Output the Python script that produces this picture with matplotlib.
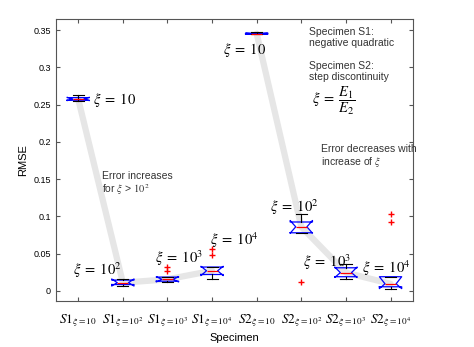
import matplotlib.pyplot as plt

plt.rcParams['font.family'] = ['Liberation Sans', 'DejaVu Sans']
plt.rcParams['mathtext.fontset'] = 'stix'

# per-specimen box statistics (RMSE)
labels = [r'$S1_{\xi=10}$', r'$S1_{\xi=10^2}$', r'$S1_{\xi=10^3}$', r'$S1_{\xi=10^4}$',
          r'$S2_{\xi=10}$', r'$S2_{\xi=10^2}$', r'$S2_{\xi=10^3}$', r'$S2_{\xi=10^4}$']
med = [0.2575, 0.0110, 0.0155, 0.0270, 0.3455, 0.0860, 0.0245, 0.0095]
q1 = [0.2560, 0.0085, 0.0130, 0.0220, 0.3450, 0.0780, 0.0190, 0.0055]
q3 = [0.2595, 0.0145, 0.0185, 0.0320, 0.3460, 0.0925, 0.0310, 0.0190]
whislo = [0.2555, 0.0065, 0.0125, 0.0155, 0.3450, 0.0780, 0.0160, 0.0030]
whishi = [0.2630, 0.0160, 0.0190, 0.0325, 0.3470, 0.1030, 0.0360, 0.0190]
cilo = [0.2555, 0.0065, 0.0120, 0.0205, 0.3448, 0.0775, 0.0180, 0.0030]
cihi = [0.2600, 0.0160, 0.0190, 0.0330, 0.3462, 0.0945, 0.0320, 0.0190]
fliers = [[], [], [0.027, 0.032], [0.048, 0.056], [], [0.012], [], [0.093, 0.1035]]

stats = []
for i in range(len(labels)):
    stats.append(dict(med=med[i], q1=q1[i], q3=q3[i], whislo=whislo[i], whishi=whishi[i],
                      cilo=cilo[i], cihi=cihi[i], fliers=fliers[i]))

fig = plt.figure(figsize=(4.74, 3.47), dpi=100)
ax = fig.add_axes([0.118, 0.133, 0.753, 0.812])

pos = list(range(1, 9))
# trend line through medians
ax.plot(pos[:4], med[:4], color='#e6e6e6', lw=4.5, solid_capstyle='round', zorder=1)
ax.plot(pos[4:], med[4:], color='#e6e6e6', lw=4.5, solid_capstyle='round', zorder=1)

ax.bxp(stats, positions=pos, widths=0.5, shownotches=True, patch_artist=False,
       boxprops=dict(color='blue', lw=0.9),
       medianprops=dict(color='red', lw=0.9),
       whiskerprops=dict(color='black', lw=0.8),
       capprops=dict(color='black', lw=0.8),
       flierprops=dict(marker='+', markeredgecolor='red', markersize=4, lw=0),
       capwidths=0.25, zorder=2)

ax.set_xlim(0.5, 8.5)
ax.set_ylim(-0.0134, 0.365)
ax.set_xticks(pos)
ax.set_yticks([0, 0.05, 0.1, 0.15, 0.2, 0.25, 0.3, 0.35])
ax.set_yticklabels(['0', '0.05', '0.1', '0.15', '0.2', '0.25', '0.3', '0.35'])
ax.tick_params(direction='in', top=True, right=True, labelsize=6.5, length=3, color='#555555')
ax.set_xticklabels(labels, fontsize=9.5)
ax.tick_params(axis='x', pad=8)
for s in ax.spines.values():
    s.set_color('#555555')
    s.set_linewidth(0.8)
ax.set_xlabel('Specimen', fontsize=8, labelpad=3)
ax.set_ylabel('RMSE', fontsize=8)

fs = 10.5
ax.text(1.33, 0.257, r'$\xi\;=\;10$', fontsize=fs, va='center')
ax.text(0.88, 0.028, r'$\xi\;=\;10^2$', fontsize=fs, va='center')
ax.text(2.72, 0.044, r'$\xi\;=\;10^3$', fontsize=fs, va='center')
ax.text(3.95, 0.068, r'$\xi\;=\;10^4$', fontsize=fs, va='center')
ax.text(4.24, 0.323, r'$\xi\;=\;10$', fontsize=fs, va='center')
ax.text(5.29, 0.113, r'$\xi\;=\;10^2$', fontsize=fs, va='center')
ax.text(6.03, 0.039, r'$\xi\;=\;10^3$', fontsize=fs, va='center')
ax.text(7.35, 0.031, r'$\xi\;=\;10^4$', fontsize=fs, va='center')

ax.text(6.18, 0.340, 'Specimen S1:\nnegative quadratic', fontsize=7.5, va='center',
        linespacing=1.1, color='#333333')
ax.text(6.18, 0.295, 'Specimen S2:\nstep discontinuity', fontsize=7.5, va='center',
        linespacing=1.1, color='#333333')
ax.text(6.25, 0.256, r'$\xi\;=\;\dfrac{E_1}{E_2}$', fontsize=10.5, va='center')
ax.text(6.45, 0.18, 'Error decreases with\nincrease of $\\xi$', fontsize=7.5, va='center',
        linespacing=1.1, color='#333333')
ax.text(1.53, 0.143, 'Error increases\nfor $\\xi$ > $10^2$', fontsize=7.5, va='center',
        linespacing=1.1, color='#333333')

fig.savefig('out.png', dpi=100)
